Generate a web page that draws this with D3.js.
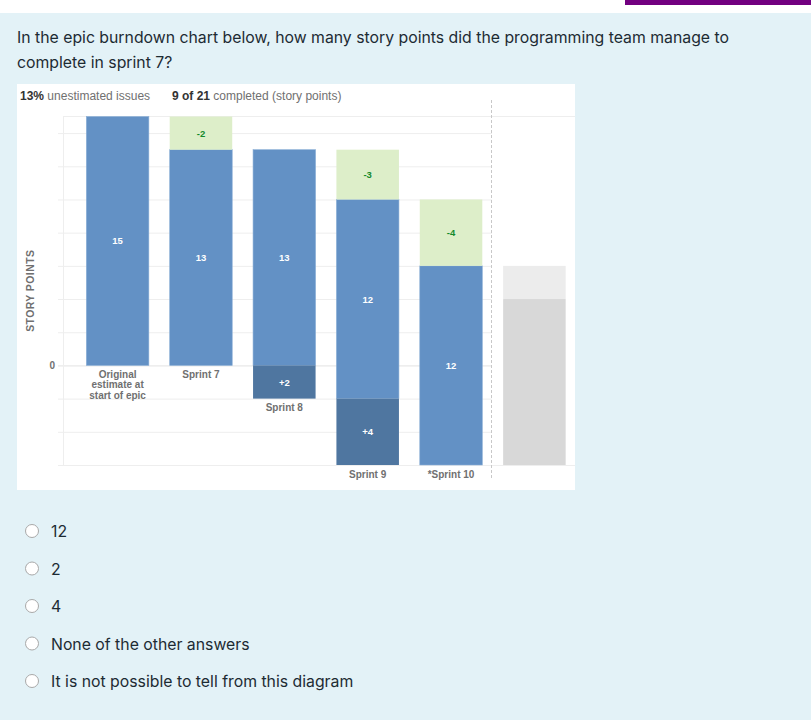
<!DOCTYPE html>
<html lang="en">
<head>
  <meta charset="UTF-8">
  <title>Epic burndown question</title>
  <script src="https://d3js.org/d3.v7.min.js"></script>
  <style>
    body {
      margin: 0;
      background: #e3f2f7;
    }
    svg {
      display: block;
    }
    .q {
      font-family: Inter, "Noto Sans", sans-serif;
      fill: #1d2b33;
    }
    .chart text {
      font-family: "Liberation Sans", Arial, sans-serif;
    }
  </style>
</head>
<body>
  <svg width="811" height="720"></svg>

  <script>
    // data
    const categories = ["Original estimate at start of epic", "Sprint 7", "Sprint 8", "Sprint 9", "*Sprint 10", "forecast"];
    const completed = [0, 2, 0, 3, 4];
    const remaining = [15, 13, 13, 12, 12];
    const added = [0, 0, 2, 4, 0];
    const forecast = [10, 2]; // forecast remaining, unestimated part
    const yTicks = [-6, -4, -2, 0, 2, 4, 6, 8, 10, 12, 14];
    const question = ["In the epic burndown chart below, how many story points did the programming team manage to", "complete in sprint 7?"];
    const answers = ["12", "2", "4", "None of the other answers", "It is not possible to tell from this diagram"];

    const svg = d3.select("svg");

    // page header
    svg.append("rect").attr("x", 0).attr("y", 0).attr("width", 811).attr("height", 13).attr("fill", "#fff");
    svg.append("rect").attr("x", 625).attr("y", 0).attr("width", 186).attr("height", 5).attr("fill", "#720080");

    svg.selectAll("text.qline")
      .data(question)
      .join("text")
      .attr("class", "q qline")
      .attr("x", 17)
      .attr("y", (d, i) => 43 + i * 25)
      .attr("font-size", 15.8)
      .text(d => d);

    // chart panel
    const chart = svg.append("g").attr("class", "chart");
    chart.append("rect")
      .attr("x", 17).attr("y", 84).attr("width", 558).attr("height", 406)
      .attr("fill", "#fff");

    const header = chart.append("text").attr("x", 20).attr("y", 100).attr("font-size", 12);
    header.append("tspan").attr("font-weight", "bold").attr("fill", "#333").text("13%");
    header.append("tspan").attr("fill", "#707070").text(" unestimated issues");
    header.append("tspan").attr("x", 172).attr("font-weight", "bold").attr("fill", "#333").text("9 of 21");
    header.append("tspan").attr("fill", "#707070").text(" completed (story points)");

    const y = d3.scaleLinear().domain([-6, 15]).range([465, 116.5]);
    const x = d3.scaleBand().domain(categories).range([63, 589]).paddingInner(0.25).paddingOuter(0.28);

    // grid
    chart.append("g")
      .selectAll("line")
      .data(yTicks)
      .join("line")
      .attr("x1", 58)
      .attr("x2", d => d === -6 ? 575 : 492)
      .attr("y1", d => y(d) + 0.5)
      .attr("y2", d => y(d) + 0.5)
      .attr("stroke", d => d === 0 ? "#e2e2e2" : "#eeeeee");
    chart.append("line")
      .attr("x1", 63).attr("x2", 575)
      .attr("y1", y(15)).attr("y2", y(15))
      .attr("stroke", "#eeeeee");
    chart.append("line")
      .attr("x1", 63.5).attr("x2", 63.5)
      .attr("y1", y(15)).attr("y2", y(-6))
      .attr("stroke", "#eeeeee");

    chart.append("text")
      .attr("x", 55).attr("y", y(0) + 3.5)
      .attr("text-anchor", "end")
      .attr("font-size", 10).attr("font-weight", "bold").attr("fill", "#707070")
      .text("0");

    chart.append("text")
      .attr("transform", `translate(34, ${y(4.5)}) rotate(-90)`)
      .attr("text-anchor", "middle")
      .attr("font-size", 10.5).attr("font-weight", "bold").attr("fill", "#707070")
      .attr("letter-spacing", 0.4)
      .text("STORY POINTS");

    // build stacked segments from the sprint values
    const rows = [];
    let cumAdded = 0;
    remaining.forEach((r, i) => {
      const base = -cumAdded;
      rows.push({ cat: categories[i], lo: base, hi: base + r, kind: "remaining", label: r });
      if (completed[i]) rows.push({ cat: categories[i], lo: base + r, hi: base + r + completed[i], kind: "done", label: "-" + completed[i] });
      if (added[i]) rows.push({ cat: categories[i], lo: base - added[i], hi: base, kind: "added", label: "+" + added[i] });
      cumAdded += added[i];
    });
    const fBase = -cumAdded;
    rows.push({ cat: "forecast", lo: fBase, hi: fBase + forecast[0], kind: "forecast" });
    rows.push({ cat: "forecast", lo: fBase + forecast[0], hi: fBase + forecast[0] + forecast[1], kind: "unest" });

    const fills = { remaining: "#6391c5", done: "#ddeec9", added: "#4f76a0", forecast: "#d8d8d8", unest: "#ececec" };

    chart.append("g")
      .selectAll("rect")
      .data(rows)
      .join("rect")
      .attr("x", d => x(d.cat))
      .attr("width", x.bandwidth())
      .attr("y", d => y(d.hi))
      .attr("height", d => y(d.lo) - y(d.hi))
      .attr("fill", d => fills[d.kind])
      .attr("stroke", d => d.kind === "remaining" ? "#8aaed6" : "none")
      .attr("stroke-width", 0.6);

    chart.append("g")
      .selectAll("text")
      .data(rows.filter(d => d.label !== undefined))
      .join("text")
      .attr("x", d => x(d.cat) + x.bandwidth() / 2)
      .attr("y", d => y((d.lo + d.hi) / 2) + 3.5)
      .attr("text-anchor", "middle")
      .attr("font-size", 9.5).attr("font-weight", "bold")
      .attr("fill", d => d.kind === "done" ? "#14892c" : "#fff")
      .text(d => d.label);

    // dashed divider before the forecast
    chart.append("line")
      .attr("x1", 491.5).attr("x2", 491.5)
      .attr("y1", 100).attr("y2", 480)
      .attr("stroke", "#c8c8c8")
      .attr("stroke-dasharray", "3,2");

    // category labels under each bar
    const catLines = [["Original", "estimate at", "start of epic"], ["Sprint 7"], ["Sprint 8"], ["Sprint 9"], ["*Sprint 10"]];
    let cum = 0;
    catLines.forEach((lines, i) => {
      const bottom = -cum - added[i];
      cum += added[i];
      const t = chart.append("text")
        .attr("x", x(categories[i]) + x.bandwidth() / 2)
        .attr("y", y(bottom) + 12.5)
        .attr("text-anchor", "middle")
        .attr("font-size", 10).attr("font-weight", "bold").attr("fill", "#707070");
      lines.forEach((l, j) => {
        t.append("tspan")
          .attr("x", x(categories[i]) + x.bandwidth() / 2)
          .attr("dy", j === 0 ? 0 : 10.5)
          .text(l);
      });
    });

    // answer options
    const opt = svg.append("g")
      .selectAll("g")
      .data(answers)
      .join("g")
      .attr("transform", (d, i) => `translate(0, ${531 + i * 37.5})`);
    opt.append("circle")
      .attr("cx", 32).attr("cy", 0).attr("r", 6.5)
      .attr("fill", "#fff").attr("stroke", "#a9a9a9").attr("stroke-width", 1);
    opt.append("text")
      .attr("class", "q")
      .attr("x", 51).attr("y", 6)
      .attr("font-size", 15.8)
      .text(d => d);
  </script>
</body>
</html>
